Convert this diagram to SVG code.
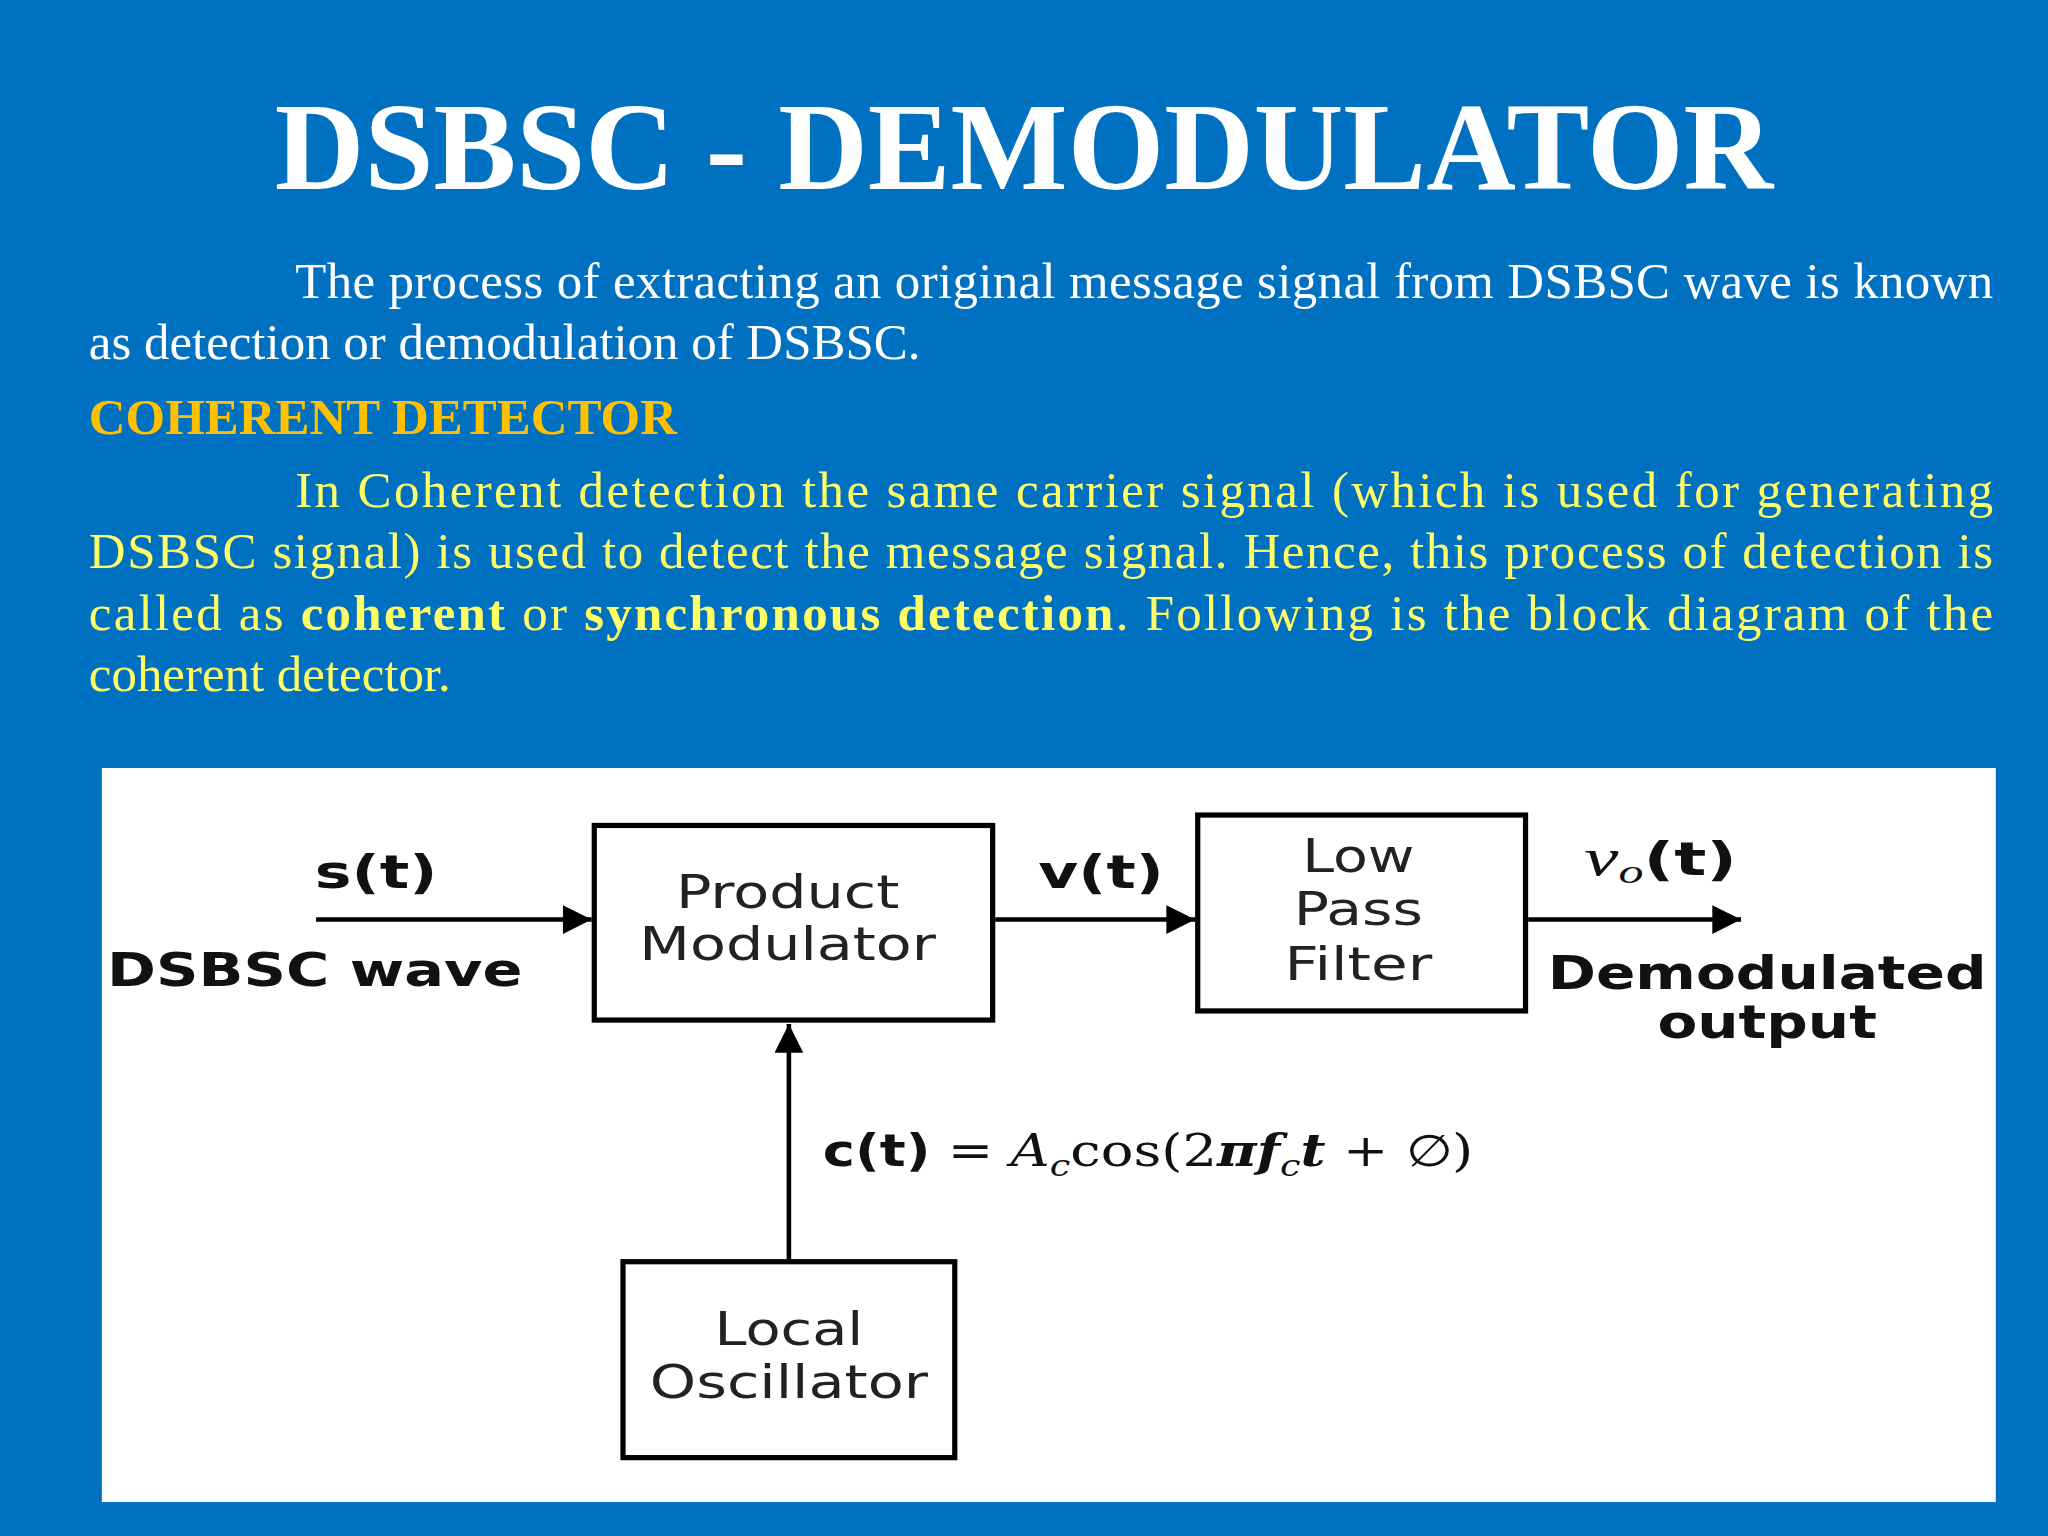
<svg xmlns="http://www.w3.org/2000/svg" width="2048" height="1536" viewBox="0 0 2048 1536">
<defs>
<marker id="a2" viewBox="0 0 10 10" refX="10" refY="5" markerWidth="24" markerHeight="22" markerUnits="userSpaceOnUse" orient="auto"><path d="M0,0 L10,5 L0,10 z" fill="#000"/></marker>
<style>
.ser{font-family:"Liberation Serif",serif;font-size:39px}
.w{fill:#fff}
.y{fill:#FFFF66}
.box{fill:#fff;stroke:#000;stroke-width:4}
.bt{font-family:"DejaVu Sans",sans-serif;font-size:35px;fill:#222;text-anchor:middle}
.lb{font-family:"DejaVu Sans",sans-serif;font-weight:bold;font-size:35px;fill:#111}
.con{stroke:#000;stroke-width:3.5;fill:none}
</style>
</defs>
<rect width="2048" height="1536" fill="#0070C0"/>
<g transform="scale(1.30612)">
<text x="784" y="145" class="ser w" style="font-size:95px" font-weight="bold" text-anchor="middle">DSBSC - DEMODULATOR</text>
<text x="226" y="228" class="ser w" textLength="1300" lengthAdjust="spacing">The process of extracting an original message signal from DSBSC wave is known</text>
<text x="68" y="275" class="ser w">as detection or demodulation of DSBSC.</text>
<text x="68" y="332" class="ser" fill="#FFC000" font-weight="bold">COHERENT DETECTOR</text>
<text x="226" y="388" class="ser y" textLength="1300" lengthAdjust="spacing">In Coherent detection the same carrier signal (which is used for generating</text>
<text x="68" y="435" class="ser y" textLength="1458" lengthAdjust="spacing">DSBSC signal) is used to detect the message signal. Hence, this process of detection is</text>
<text x="68" y="482" class="ser y" textLength="1458" lengthAdjust="spacing">called as <tspan font-weight="bold">coherent</tspan> or <tspan font-weight="bold">synchronous detection</tspan>. Following is the block diagram of the</text>
<text x="68" y="529" class="ser y">coherent detector.</text>
<rect x="78" y="588" width="1450" height="562" fill="#fff"/>
<g id="connectors">
<line x1="242" y1="704" x2="453" y2="704" class="con" marker-end="url(#a2)"/>
<line x1="762" y1="704" x2="915" y2="704" class="con" marker-end="url(#a2)"/>
<line x1="1170" y1="704" x2="1333" y2="704" class="con" marker-end="url(#a2)"/>
<line x1="604" y1="966" x2="604" y2="784" class="con" marker-end="url(#a2)"/>
</g>
<g id="pm"><rect x="455" y="632" width="305" height="149" class="box"/><text class="bt" x="603" y="695" textLength="171" lengthAdjust="spacingAndGlyphs">Product</text><text class="bt" x="603" y="735" textLength="227" lengthAdjust="spacingAndGlyphs">Modulator</text></g>
<g id="lpf"><rect x="917" y="624" width="251" height="150" class="box"/><text class="bt" x="1040" y="668" textLength="86" lengthAdjust="spacingAndGlyphs">Low</text><text class="bt" x="1040" y="708" textLength="99" lengthAdjust="spacingAndGlyphs">Pass</text><text class="bt" x="1040" y="750" textLength="113" lengthAdjust="spacingAndGlyphs">Filter</text></g>
<g id="lo"><rect x="477" y="966" width="254" height="150" class="box"/><text class="bt" x="604" y="1030" textLength="114" lengthAdjust="spacingAndGlyphs">Local</text><text class="bt" x="604" y="1070" textLength="213" lengthAdjust="spacingAndGlyphs">Oscillator</text></g>
<g id="labels">
<text class="lb" x="288" y="680" text-anchor="middle" textLength="94" lengthAdjust="spacingAndGlyphs">s(t)</text>
<text class="lb" x="82" y="755" textLength="318" lengthAdjust="spacingAndGlyphs">DSBSC wave</text>
<text class="lb" x="843" y="680" text-anchor="middle" textLength="96" lengthAdjust="spacingAndGlyphs">v(t)</text>
<text class="lb" x="1213" y="670" textLength="117" lengthAdjust="spacingAndGlyphs"><tspan font-family="Liberation Serif,serif" font-style="italic" font-weight="normal" font-size="40">v</tspan><tspan font-family="Liberation Serif,serif" font-style="italic" font-weight="normal" font-size="26" dy="6">o</tspan><tspan dy="-6">(t)</tspan></text>
<text class="lb" x="1185" y="757" textLength="336" lengthAdjust="spacingAndGlyphs">Demodulated</text>
<text class="lb" x="1353" y="795" text-anchor="middle" textLength="168" lengthAdjust="spacingAndGlyphs">output</text>
<text x="630" y="893" fill="#111" font-family="DejaVu Sans,sans-serif" font-size="34" textLength="498" lengthAdjust="spacingAndGlyphs"><tspan font-weight="bold">c(t)</tspan> = <tspan font-family="DejaVu Serif,serif" font-style="italic">A</tspan><tspan font-family="DejaVu Serif,serif" font-style="italic" font-size="23" dy="7">c</tspan><tspan font-family="DejaVu Serif,serif" dy="-7">cos(2</tspan><tspan font-family="DejaVu Serif,serif" font-style="italic" font-weight="bold">πf</tspan><tspan font-family="DejaVu Serif,serif" font-style="italic" font-size="23" dy="7">c</tspan><tspan font-family="DejaVu Serif,serif" font-style="italic" font-weight="bold" dy="-7">t</tspan><tspan font-family="DejaVu Serif,serif"> + ∅)</tspan></text>
</g>
</g>
</svg>
